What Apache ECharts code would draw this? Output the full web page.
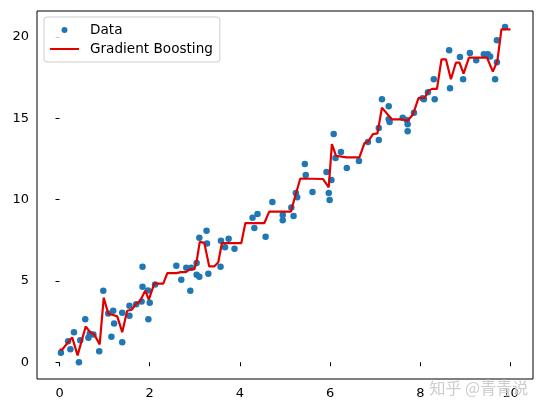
<!DOCTYPE html>
<html>
<head>
<meta charset="utf-8">
<script src="https://cdn.jsdelivr.net/npm/echarts@6/dist/echarts.min.js"></script>
<style>
html,body{margin:0;padding:0;background:#fff;}
#c{width:543px;height:413px;}
</style>
</head>
<body>
<div id="c"></div>
<script>
// Scatter data (x, y)
var dataX = [0.03,0.19,0.24,0.32,0.43,0.46,0.57,0.64,0.67,0.75,0.88,0.97,1.08,1.15,1.19,1.21,1.39,1.39,1.55,1.55,
  1.70,1.82,1.84,1.84,1.96,1.97,2.00,2.12,2.59,2.70,2.81,2.90,2.92,3.04,3.04,3.10,3.10,3.26,3.27,3.30,
  3.57,3.58,3.67,3.75,3.88,4.28,4.32,4.39,4.57,4.72,4.95,4.95,5.14,5.19,5.24,5.27,5.44,5.46,5.61,5.92,
  5.97,5.99,6.03,6.08,6.12,6.24,6.37,6.64,6.84,7.08,7.08,7.15,7.30,7.30,7.32,7.61,7.70,7.72,7.72,7.86,
  8.05,8.08,8.17,8.30,8.32,8.64,8.66,8.88,8.95,9.10,9.24,9.41,9.50,9.55,9.66,9.70,9.70,9.88];
var dataY = [0.59,1.29,0.80,1.84,0.00,1.35,2.64,1.51,1.76,1.70,0.67,4.40,3.00,1.57,3.17,2.39,3.04,1.23,3.48,2.86,
  3.56,3.73,5.88,4.64,4.41,2.64,3.66,4.78,5.93,5.08,5.81,4.40,5.81,6.11,5.38,5.26,7.65,8.08,7.30,5.44,
  5.87,7.47,7.07,7.59,6.98,8.88,8.26,9.12,7.71,9.86,9.06,8.73,9.51,9.00,10.41,10.15,12.19,11.51,10.47,11.70,
  10.41,9.98,11.21,14.03,12.56,12.93,11.94,12.37,13.54,14.40,13.66,16.18,15.75,14.95,14.77,15.03,14.89,14.64,14.21,15.34,
  16.24,16.18,16.61,17.40,16.18,19.18,16.85,18.77,17.40,19.02,18.57,18.94,18.94,18.80,17.40,18.45,19.80,20.61];

// Gradient Boosting prediction line vertices
var gbX = [0.00,0.06,0.28,0.40,0.58,0.69,0.77,0.89,0.98,1.08,1.17,1.28,1.39,1.50,1.60,1.70,1.78,1.90,1.98,2.10,
  2.30,2.39,2.59,2.69,2.80,2.89,2.99,3.04,3.11,3.21,3.32,3.43,3.52,3.60,4.03,4.12,4.54,4.65,5.13,5.24,
  5.34,5.84,5.97,6.04,6.13,6.36,6.65,6.76,6.84,6.95,7.05,7.15,7.37,7.61,7.72,7.84,7.96,8.10,8.18,8.26,
  8.37,8.47,8.57,8.68,8.79,8.87,8.96,9.08,9.48,9.61,9.71,9.80,10.00];
var gbY = [0.78,0.78,1.53,0.42,2.20,1.81,1.71,1.10,3.97,3.00,2.92,2.82,1.85,3.17,3.23,3.60,3.74,4.40,3.85,4.83,
  4.83,5.48,5.48,5.54,5.54,5.71,5.72,6.21,7.40,7.34,5.89,5.89,6.15,7.32,7.32,8.55,8.55,9.26,9.26,10.35,
  11.30,11.27,10.76,13.41,12.70,12.60,12.60,13.46,13.56,14.03,14.07,15.66,14.93,14.93,14.85,15.25,16.24,16.27,16.69,16.81,
  16.81,18.62,18.62,17.40,18.42,18.42,17.75,18.73,18.73,17.87,18.53,20.47,20.47];

var xTicks = [0, 2, 4, 6, 8, 10];
var yTicks = [0, 5, 10, 15, 20];
var seriesNames = ['Data', 'Gradient Boosting'];

var scatterData = dataX.map(function (x, i) { return [x, dataY[i]]; });
var lineData = gbX.map(function (x, i) { return [x, gbY[i]]; });

var font = 'DejaVu Sans';
var red = '#e00000';
var chart = echarts.init(document.getElementById('c'), null, {renderer: 'canvas'});
chart.setOption({
  animation: false,
  backgroundColor: '#ffffff',
  grid: {left: 37, right: 10, top: 11, bottom: 34, show: true, borderColor: '#000', borderWidth: 1, backgroundColor: 'transparent'},
  xAxis: {
    type: 'value', min: -0.5, max: 10.5,
    axisLine: {show: false},
    splitLine: {show: false},
    axisTick: {show: true, length: 4, lineStyle: {color: '#000', width: 1}, customValues: xTicks},
    axisLabel: {customValues: xTicks, color: '#000', fontFamily: font, fontSize: 13, margin: 8}
  },
  yAxis: {
    type: 'value', min: -1.03, max: 21.6,
    axisLine: {show: false},
    splitLine: {show: false},
    axisTick: {show: true, length: 4, lineStyle: {color: '#000', width: 1}, customValues: yTicks},
    axisLabel: {customValues: yTicks, color: '#000', fontFamily: font, fontSize: 13, margin: 8}
  },
  legend: {
    orient: 'vertical', left: 44, top: 17,
    data: [
      {name: seriesNames[0], icon: 'circle'},
      {name: seriesNames[1], itemStyle: {opacity: 0, color: 'rgba(0,0,0,0)', borderWidth: 0}}
    ],
    itemWidth: 29, itemHeight: 6, itemGap: 5,
    padding: [6, 7, 6, 5],
    borderColor: '#cccccc', borderWidth: 1, borderRadius: 3,
    backgroundColor: 'rgba(255,255,255,0.8)',
    textStyle: {color: '#000', fontFamily: font, fontSize: 13.6, lineHeight: 14, padding: [0, 0, 0, 6]}
  },
  series: [
    {
      name: seriesNames[0], type: 'scatter', data: scatterData,
      symbol: 'circle', symbolSize: 6.5, symbolKeepAspect: true,
      itemStyle: {color: '#1f77b4', opacity: 1}, z: 2
    },
    {
      name: seriesNames[1], type: 'line', data: lineData,
      symbol: 'none', showSymbol: false,
      lineStyle: {color: red, width: 2.2}, itemStyle: {color: red}, z: 3
    }
  ],
  graphic: [{
    type: 'text', left: 429, top: 379, z: 100, silent: true,
    style: {text: '知乎 @青青说', font: '16px "Noto Sans CJK SC"', fill: 'rgba(200,200,200,0.9)', stroke: 'rgba(255,255,255,0.6)', lineWidth: 1}
  }]
});
</script>
</body>
</html>
